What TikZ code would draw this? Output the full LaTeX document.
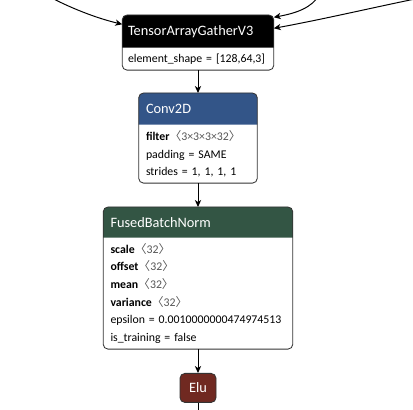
\documentclass[tikz,border=0pt]{standalone}
\usepackage{fontspec}
\setmainfont{Carlito}
\newfontfamily\cjk{Noto Sans CJK SC}
\usepackage{tikz}
\usetikzlibrary{arrows.meta, positioning, calc, backgrounds}
\definecolor{opblack}{RGB}{0, 0, 0}
\definecolor{layerblue}{RGB}{51, 85, 136}
\definecolor{normgreen}{RGB}{51, 85, 68}
\definecolor{actred}{RGB}{112, 41, 33}
\definecolor{framegray}{RGB}{51, 51, 51}
\definecolor{shapegray}{RGB}{85, 85, 85}
\newcommand{\shp}[1]{\textcolor{shapegray}{{\cjk 〈}#1{\cjk 〉}}}

\begin{document}
\begin{tikzpicture}[
    optitle/.style={anchor=north, text=white, font=\fontsize{10.2}{12}\selectfont, align=left, inner xsep=0.175cm, inner ysep=0pt},
    opattr/.style={font=\fontsize{8.4}{12.5}\selectfont, align=left, inner xsep=0.175cm, inner ysep=0pt},
    opframe/.style={draw=framegray, line width=0.6pt, rounded corners=0.12cm},
    arrow/.style={-{Stealth[length=5pt, width=4.5pt, inset=1.5pt]}, line width=0.7pt}
]
\useasboundingbox (0,0) rectangle (10.325,-10.25);

% TensorArrayGatherV3
\node[optitle, text width=3.5cm, inner xsep=0.1375cm, minimum height=0.8cm] (gather) at (4.95,-0.375) {TensorArrayGatherV3};
\node[opattr, text width=3.5cm, inner xsep=0.1375cm, minimum height=0.55cm, below=0pt of gather] (gatherattr) {element\_shape = [128,64,3]};

% Conv2D
\node[optitle, text width=2.6cm, minimum height=0.775cm] (conv) at (4.95,-2.325) {Conv2D};
\node[opattr, text width=2.6cm, minimum height=1.45cm, below=0pt of conv] (convattr) {\textbf{filter}\shp{3×3×3×32}\\padding = SAME\\strides = 1, 1, 1, 1};

% FusedBatchNorm
\node[optitle, text width=4.375cm, minimum height=0.75cm] (fbn) at (4.95,-5.175) {FusedBatchNorm};
\node[opattr, text width=4.375cm, minimum height=2.775cm, below=0pt of fbn] (fbnattr) {\textbf{scale}\shp{32}\\\textbf{offset}\shp{32}\\\textbf{mean}\shp{32}\\\textbf{variance}\shp{32}\\epsilon = 0.0010000000474974513\\is\_training = false};

% Elu
\node[optitle, align=center, minimum width=0.9cm, minimum height=0.725cm, fill=actred, draw=framegray, line width=0.6pt, rounded corners=0.12cm] (elu) at (4.95,-9.325) {Elu};

% Headers and frames
\begin{scope}[on background layer]
\fill[opblack] (gather.south west) [rounded corners=0.12cm] -- (gather.north west) -- (gather.north east) [sharp corners] -- (gather.south east) -- cycle;
\draw[opframe] (gather.north west) rectangle (gatherattr.south east);
\fill[layerblue] (conv.south west) [rounded corners=0.12cm] -- (conv.north west) -- (conv.north east) [sharp corners] -- (conv.south east) -- cycle;
\draw[opframe] (conv.north west) rectangle (convattr.south east);
\fill[normgreen] (fbn.south west) [rounded corners=0.12cm] -- (fbn.north west) -- (fbn.north east) [sharp corners] -- (fbn.south east) -- cycle;
\draw[opframe] (fbn.north west) rectangle (fbnattr.south east);
\end{scope}

% Inputs
\coordinate (inA) at (1.1,0.15);
\coordinate (inB) at (8.0,0.15);
\coordinate (inC) at (10.5,0.05);
\coordinate (next) at (4.95,-10.4);

% Arrows
\draw[arrow] (inA) .. controls (1.75,-0.2) and (2.4,-0.45) .. ([yshift=0.175cm]gather.west);
\draw[arrow] (inB) .. controls (7.8,-0.2) and (7.4,-0.33) .. ([yshift=0.35cm]gather.east);
\draw[arrow] (inC) .. controls (9.5,-0.15) and (8.0,-0.5) .. ([yshift=0.075cm]gather.east);
\draw[arrow] (gatherattr) -- (conv);
\draw[arrow] (convattr) -- (fbn);
\draw[arrow] (fbnattr) -- (elu);
\draw[line width=0.7pt] (elu) -- (next);
\end{tikzpicture}
\end{document}
